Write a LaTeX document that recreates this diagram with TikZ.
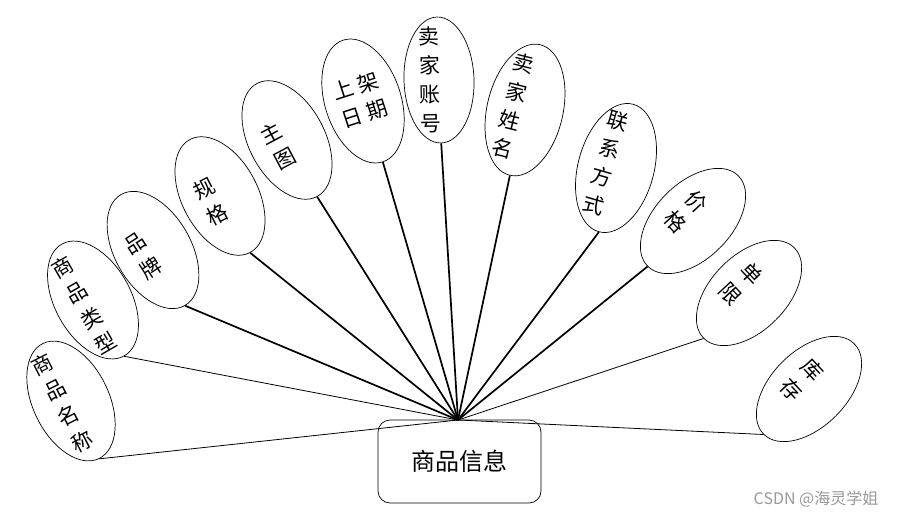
\documentclass[tikz,border=0pt]{standalone}
\usepackage{fontspec}
\setmainfont{Noto Sans CJK SC}
\usetikzlibrary{shapes.geometric}
\begin{document}
\begin{tikzpicture}[x=1pt,y=-1pt,
  attr/.style={ellipse, draw, line width=0.7pt, inner sep=0pt, minimum width=76pt, minimum height=128pt},
  lbl/.style={inner sep=0pt, align=center, font=\fontsize{21}{29}\selectfont},
  strong/.style={line width=1.7pt},
  weak/.style={line width=0.8pt}]
\useasboundingbox (0,0) rectangle (901,516);
% central entity
\node (ent) [draw, line width=0.7pt, rounded corners=12pt, minimum width=163pt, minimum height=83pt, inner sep=0pt, font=\fontsize{24}{24}\selectfont] at (459.5,461.5) {商品信息};
\coordinate (hub) at (458,420);
% attributes
\node (e1)  [attr, rotate=26]  at (71,401)  {};
\node (e2)  [attr, rotate=29]  at (93,300)  {};
\node (e3)  [attr, rotate=30]  at (153,250) {};
\node (e4)  [attr, rotate=28]  at (220,196) {};
\node (e5)  [attr, rotate=28]  at (287,140) {};
\node (e6)  [attr, rotate=18]  at (363,101) {};
\node (e7)  [attr, rotate=2, minimum width=70pt, minimum height=126pt]  at (439,80)  {};
\node (e8)  [attr, rotate=-13, minimum height=134pt] at (525,110) {};
\node (e9)  [attr, rotate=-15, minimum height=132pt] at (616,168) {};
\node (e10) [attr, rotate=-45] at (693,221) {};
\node (e11) [attr, rotate=-45] at (749,293) {};
\node (e12) [attr, rotate=-45] at (809,389) {};
% labels
\node (t1)  [lbl, rotate=27]  at (62,403)  {商\\品\\名\\称};
\node (t2)  [lbl, rotate=30]  at (84,305)  {商\\品\\类\\型};
\node (t3)  [lbl, rotate=33]  at (143,256) {品\\牌};
\node (t4)  [lbl, rotate=27]  at (211,202) {规\\格};
\node (t5)  [lbl, rotate=28]  at (278,146) {主\\图};
\node (t6)  [lbl, rotate=18]  at (360,100) {上 架\\日 期};
\node (t7)  [lbl, rotate=1]   at (430,80)  {卖\\家\\账\\号};
\node (t8)  [lbl, rotate=-14] at (513,106) {卖\\家\\姓\\名};
\node (t9)  [lbl, rotate=-16] at (606,163) {联\\系\\方\\式};
\node (t10) [lbl, rotate=-47] at (686,212) {价\\格};
\node (t11) [lbl, rotate=-47] at (741,284) {单\\限};
\node (t12) [lbl, rotate=-47] at (802,380) {库\\存};
% connectors
\draw[weak]   (hub) -- (e1.south);
\draw[weak]   (hub) -- (e2.south);
\draw[strong] (hub) -- (e3.south);
\draw[strong] (hub) -- (e4.south);
\draw[strong] (hub) -- (e5.south);
\draw[strong] (hub) -- (e6.south);
\draw[strong] (hub) -- (e7.south);
\draw[strong] (hub) -- (e8.south);
\draw[strong] (hub) -- (e9.south);
\draw[strong] (hub) -- (e10.south);
\draw[weak]   (hub) -- (e11.south);
\draw[weak]   (hub) -- (e12.south);
% watermark
\node (wm) [inner sep=0pt, text=black!40, font=\fontsize{16}{16}\selectfont] at (816,499) {CSDN @海灵学姐};
\end{tikzpicture}
\end{document}
